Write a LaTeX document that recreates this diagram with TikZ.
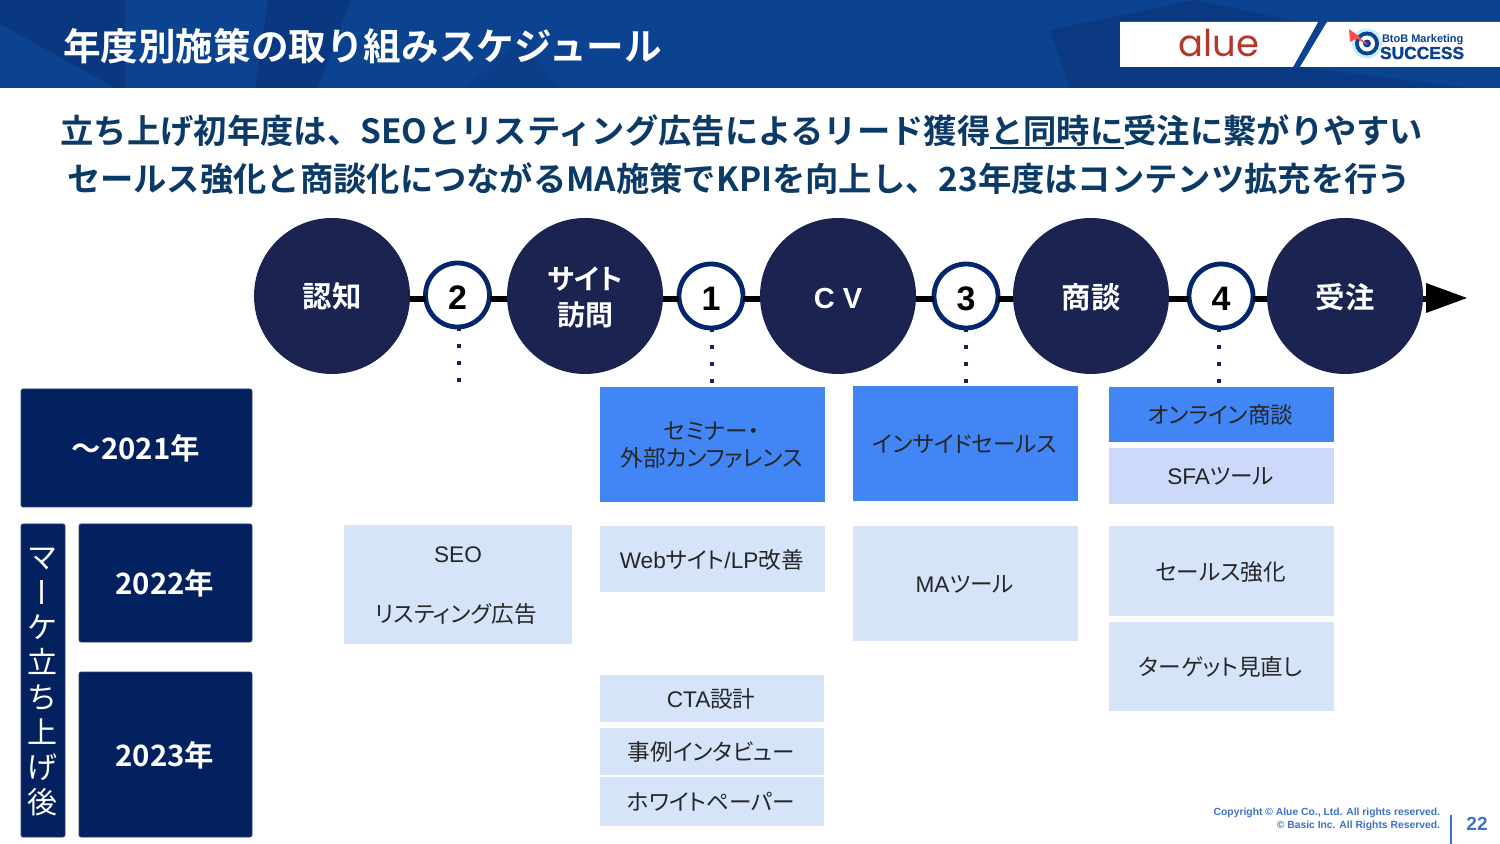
\documentclass[tikz,border=0pt]{standalone}
\usepackage{fontspec}
\setmainfont[RawFeature=+palt]{Noto Sans CJK JP}
\newfontfamily\cjkr{Noto Sans CJK JP}
\newfontfamily\arl{Liberation Sans}
\newfontfamily\pop{Poppins}
\newfontfamily\cjkb{Noto Sans CJK JP Bold}
\newfontfamily\cjkbp[RawFeature=+palt]{Noto Sans CJK JP Bold}
\newfontfamily\succf[FakeBold=1.6]{Liberation Sans Bold}
\newcommand{\lat}[1]{{\arl #1}}
\definecolor{hdr}{HTML}{0C4391}
\definecolor{hdrd}{HTML}{0A3880}
\definecolor{navy}{HTML}{03205F}
\definecolor{cnavy}{HTML}{1B2350}
\definecolor{ring}{HTML}{03276B}
\definecolor{strong}{HTML}{4285F4}
\definecolor{pale}{HTML}{D6E4FA}
\definecolor{paler}{HTML}{CCD9F9}
\definecolor{sub}{HTML}{0B3A66}
\definecolor{foot}{HTML}{3F72C4}
\definecolor{aluer}{HTML}{B5372C}
\newcommand{\dg}[1]{\raisebox{0pt}[15pt][0pt]{#1}}
\tikzset{
  x=0.5pt,y=-0.5pt,
  every node/.style={inner sep=0pt,outer sep=0pt},
  stage/.style={circle,fill=cnavy,minimum size=78pt},
  stagetext/.style={text=white,font=\cjkbp\fontsize{14.7}{18}\selectfont,align=center},
  num/.style={circle,draw=ring,line width=2.4pt,fill=white,minimum size=32pt,text=black,font=\arl\bfseries\fontsize{17}{20}\selectfont},
  yearbox/.style={draw=navy!85!white,line width=0.3pt,fill=navy,rounded corners=1pt},
  yeartext/.style={text=white,font=\cjkb\fontsize{14.7}{18}\selectfont},
  task/.style={fill=strong},
  soft/.style={fill=pale},
  softer/.style={fill=paler},
  tasktext/.style={text=black!85,font=\fontsize{11.3}{13.6}\selectfont,align=center},
  link/.style={line width=3pt,black},
  drop/.style={line width=2pt,cnavy,dash pattern=on 2pt off 6.5pt},
  headline/.style={text=sub,font=\cjkb\fontsize{16.65}{20}\selectfont},
}
% box: fill node (name), label node (name-t)
\newcommand{\bx}[8][tasktext]{%
  \node[#2,minimum width=#5*0.5pt-#3*0.5pt,minimum height=#6*0.5pt-#4*0.5pt] (#7) at ({(#3+#5)/2},{(#4+#6)/2}) {};
  \node[#1] (#7-t) at ([xshift=-0.4pt,yshift=-0.3pt]#7.center) {#8};}
\begin{document}
\begin{tikzpicture}
\useasboundingbox (0,0) rectangle (1500,844);
\fill[white] (0,0) rectangle (1500,844);
% header
\fill[hdr] (0,0) rectangle (1500,88);
\fill[hdrd] (0,0) -- (125,0) -- (125,88) -- (115,88) -- (0,24) -- cycle;
\fill[hdrd] (268,0) -- (351,0) -- (318,88) -- (255,88) -- cycle;
\fill[hdrd!90!hdr] (1050,30) -- (1195,0) -- (1300,22) -- (1120,40) -- (1120,88) -- (1070,88) -- cycle;
\fill[hdrd!80!hdr] (1120,67) -- (1300,67) -- (1470,88) -- (1120,88) -- cycle;
\fill[hdrd!50!hdr] (465,88) -- (520,40) -- (560,88) -- cycle;
\node[anchor=west,text=white,font=\cjkb\fontsize{18.8}{22}\selectfont] (title) at (63,46) {年度別施策の取り組みスケジュール};
% logos
\fill[white] (1120,22) -- (1318,22) -- (1293,67) -- (1120,67) -- cycle;
\fill[white] (1327,22) -- (1500,22) -- (1500,67) -- (1300,67) -- cycle;
\node[text=aluer,font=\pop\fontsize{18.5}{22}\selectfont] (alue) at (1219,43) {alue};
\fill[cyan!22!white] (1367,43.5) circle (15);
\fill[hdr] (1367,43.5) circle (12);
\fill[white] (1367,43.5) circle (8);
\fill[hdr] (1367,43.5) circle (4);
\draw[red!70!white,line width=0.8pt] (1353,35) -- (1367,44);
\fill[red!70!white] (1349,29) -- (1360,37) -- (1350,42) -- cycle;
\node[anchor=west,text=hdr,font=\arl\bfseries\fontsize{5.5}{6}\selectfont] (btob) at (1382,39.5) {BtoB Marketing};
\node[anchor=west,text=hdr,font=\succf\fontsize{8.7}{11}\selectfont] (succ) at (1380,53) {SUCCESS};
% headline
\node[headline,anchor=center] (h1) at (742,132) {立ち上げ初年度は、SEOとリスティング広告によるリード獲得\rlap{\color{sub}\rule[-2.6pt]{66.6pt}{0.9pt}}と同時に受注に繋がりやすい};
\node[headline,anchor=center] (h2) at (739,179) {セールス強化と商談化につながるMA施策でKPIを向上し、23年度はコンテンツ拡充を行う};
% flow
\coordinate (ln) at (0,299);
\coordinate (tip) at (1467,298);
\coordinate (tail) at (1430,299);
\node[stage] (c1) at (332,296) {};
\node[stage] (c2) at (585,296) {};
\node[stage] (c3) at (838,296) {};
\node[stage] (c4) at (1091,296) {};
\node[stage] (c5) at (1345,296) {};
\node[stagetext] (c1t) at (c1) {認知};
\node[stagetext,font=\cjkbp\fontsize{14}{18}\selectfont] (c2t) at ([yshift=-0.5pt]c2) {サイト\\訪問};
\node[stagetext,font=\arl\bfseries\fontsize{14.5}{18}\selectfont] (c3t) at ([yshift=-1.2pt]c3) {C V};
\node[stagetext] (c4t) at ([yshift=-0.5pt]c4) {商談};
\node[stagetext] (c5t) at ([yshift=-0.5pt]c5) {受注};
\node[num] (n2) at (457.5,295) {\dg{2}};
\node[num] (n1) at (711,296) {\dg{1}};
\node[num] (n3) at (966,296) {\dg{3}};
\node[num] (n4) at (1221,296) {\dg{4}};
\draw[link] (c1.east |- ln) -- (n2.west |- ln);
\draw[link] (n2.east |- ln) -- (c2.west |- ln);
\draw[link] (c2.east |- ln) -- (n1.west |- ln);
\draw[link] (n1.east |- ln) -- (c3.west |- ln);
\draw[link] (c3.east |- ln) -- (n3.west |- ln);
\draw[link] (n3.east |- ln) -- (c4.west |- ln);
\draw[link] (c4.east |- ln) -- (n4.west |- ln);
\draw[link] (n4.east |- ln) -- (c5.west |- ln);
\draw[link] (c5.east |- ln) -- (tail);
\fill[black] (1426,283) -- (tip) -- (1426,313) -- cycle;
\coordinate (d2) at (459,384);
\coordinate (d1) at (712,384);
\coordinate (d3) at (966,384);
\coordinate (d4) at (1219,384);
\draw[drop] (n2.south -| d2) -- (d2);
\draw[drop] (n1.south -| d1) -- (d1);
\draw[drop] (n3.south -| d3) -- (d3);
\draw[drop] (n4.south -| d4) -- (d4);
% year boxes
\bx[yeartext]{yearbox}{21}{389}{252}{507}{y21}{～2021年}
\bx[yeartext]{yearbox}{79}{524}{252}{642}{y22}{2022年}
\bx[yeartext]{yearbox}{79}{672}{252}{837}{y23}{2023年}
\node[yearbox,minimum width=22pt,minimum height=156.5pt] (yv) at (43,680.5) {};
\node[text=white,align=center,font=\cjkr\fontsize{15}{17.5}\selectfont] (yvt) at (42,682) {マ\\\smash{\raisebox{2.5pt}{\makebox[0pt]{\hspace{-5pt}\rotatebox[origin=c]{-90}{ー}}}}\\ケ\\立\\ち\\上\\げ\\後};
% tasks
\bx{task}{600}{387}{825}{502}{a1}{セミナー・\\外部カンファレンス}
\bx{task}{853}{386}{1078}{501}{a2}{インサイドセールス}
\bx{task}{1109}{387}{1334}{442}{a3}{オンライン商談}
\bx{softer}{1109}{448}{1334}{504}{a4}{\lat{SFA}ツール}
\node[soft,minimum width=114pt,minimum height=59.5pt] (b1) at (458,584.5) {};
\node[tasktext] (b1a) at (458,555) {\lat{SEO}};
\node[tasktext] (b1b) at (456,614) {リスティング広告};
\bx{soft}{600}{526}{825}{592}{b2}{\lat{Web}サイト\lat{/LP}改善}
\bx{soft}{853}{526}{1078}{641}{b3}{\lat{MA}ツール}
\bx{soft}{1109}{526}{1334}{616}{b4}{セールス強化}
\bx{soft}{1109}{622}{1334}{711}{b5}{ターゲット見直し}
\bx{soft}{600}{675}{824}{722}{c6}{\lat{CTA}設計}
\bx{soft}{600}{728}{824}{775}{c7}{事例インタビュー}
\bx{soft}{600}{777}{824}{826}{c8}{ホワイトペーパー}
% footer
\node[anchor=east,text=foot,font=\arl\bfseries\fontsize{5.17}{6}\selectfont] (f1) at (1440,813) {Copyright © Alue Co., Ltd. All rights reserved.};
\node[anchor=east,text=foot,font=\arl\bfseries\fontsize{5.17}{6}\selectfont] (f2) at (1440,826) {© Basic Inc. All Rights Reserved.};
\draw[foot,line width=1pt] (1451,815) -- (1451,844);
\node[text=foot,font=\arl\bfseries\fontsize{9.5}{11}\selectfont] (pg) at (1477,824) {22};
\end{tikzpicture}
\end{document}
